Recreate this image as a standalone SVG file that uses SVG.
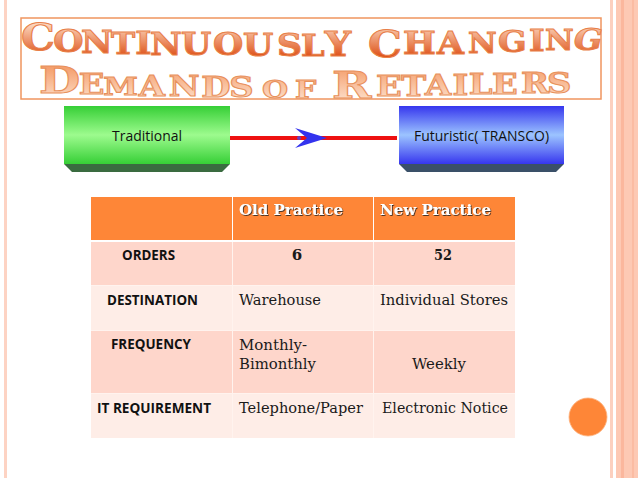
<svg xmlns="http://www.w3.org/2000/svg" width="638" height="478" viewBox="0 0 638 478">
<style>
.hdr{fill:#fe8637}.odd{fill:#fed6cb}.even{fill:#feede7}
.cal{font-family:"Open Sans","Liberation Sans",sans-serif;font-size:14px;fill:#111}
.lbl{font-family:"Open Sans","Liberation Sans",sans-serif;font-size:14px;font-weight:700;fill:#111}
.ser{font-family:"DejaVu Serif","Liberation Serif",serif;font-size:15px;fill:#1a1a1a}
.bold{font-weight:700}
.head{font-family:"DejaVu Serif","Liberation Serif",serif;font-size:15px;font-weight:700;fill:#fff;filter:url(#sh)}
.tt{font-family:"DejaVu Serif","Liberation Serif",serif;font-weight:700;stroke-width:1}
</style>
<defs>
<linearGradient id="g" x1="0" y1="0" x2="0" y2="1"><stop offset="0" stop-color="#36cf36"/><stop offset=".5" stop-color="#9dfb8e"/><stop offset="1" stop-color="#36cf36"/></linearGradient>
<linearGradient id="b" x1="0" y1="0" x2="0" y2="1"><stop offset="0" stop-color="#3636ee"/><stop offset=".5" stop-color="#9cc4ff"/><stop offset="1" stop-color="#3636ee"/></linearGradient>
<linearGradient id="t1" gradientUnits="userSpaceOnUse" x1="0" y1="24" x2="0" y2="57"><stop offset="0" stop-color="#fcd8c0"/><stop offset="1" stop-color="#dd4f16"/></linearGradient>
<linearGradient id="t2" gradientUnits="userSpaceOnUse" x1="0" y1="65" x2="0" y2="98"><stop offset="0" stop-color="#f49a66"/><stop offset="1" stop-color="#fcd9c2"/></linearGradient>
<filter id="sh" x="-10%" y="-20%" width="120%" height="140%"><feDropShadow dx=".8" dy=".8" stdDeviation=".4" flood-color="#222"/></filter>
<marker id="arr" markerUnits="userSpaceOnUse" markerWidth="34" markerHeight="22" refX="32" refY="11" orient="auto"><path d="M0 1L32 11L0 21L12 11Z" fill="#3333ee"/></marker>
</defs>
<g id="borders">
<rect x="4" y="0" width="3" height="478" fill="#fdd3c3"/>
<rect x="610" y="0" width="3" height="478" fill="#fcd0bf"/>
<rect x="616" y="0" width="22" height="478" fill="#fdc9b4"/>
<rect x="621" y="0" width="3" height="478" fill="#fbb79d"/>
<rect x="632" y="0" width="2" height="478" fill="#fbbca3"/>
</g>
<g id="title">
<rect x="21" y="18" width="580" height="81" fill="#fff" stroke="#f0955f" stroke-width="1.5"/>
<text class="tt" transform="scale(1.12 1)" fill="url(#t1)" stroke="#e87f48"><tspan x="18.75" y="50" font-size="38">C</tspan><tspan x="47.6" y="52" font-size="31">O</tspan><tspan x="72.3" y="53" font-size="31">N</tspan><tspan x="99.1" y="54" font-size="29">T</tspan><tspan x="120.8" y="54" font-size="31">I</tspan><tspan x="134" y="55" font-size="31">N</tspan><tspan x="161.6" y="55" font-size="31">U</tspan><tspan x="190.2" y="55" font-size="31">O</tspan><tspan x="217" y="56" font-size="31">U</tspan><tspan x="247.3" y="56" font-size="31">S</tspan><tspan x="268.8" y="56" font-size="30">L</tspan><tspan x="290" y="56" font-size="33">Y</tspan><tspan x="319" y="56" font-size="31"> </tspan><tspan x="328.6" y="57" font-size="38">C</tspan><tspan x="359.8" y="54" font-size="31">H</tspan><tspan x="390.2" y="54" font-size="31">A</tspan><tspan x="417.9" y="53" font-size="28">N</tspan><tspan x="444.6" y="52" font-size="30">G</tspan><tspan x="472.3" y="51" font-size="30">I</tspan><tspan x="486.6" y="50" font-size="28">N</tspan><tspan x="512.5" y="50" font-size="30" font-style="italic">G</tspan></text>
<text class="tt" transform="scale(1.25 1)" fill="url(#t2)" stroke="#e8915c"><tspan x="31.2" y="93" font-size="38">D</tspan><tspan x="63" y="94" font-size="27">E</tspan><tspan x="82.6" y="95" font-size="25">M</tspan><tspan x="111" y="96" font-size="27">A</tspan><tspan x="135" y="96" font-size="27">N</tspan><tspan x="161" y="97" font-size="27">D</tspan><tspan x="183.5" y="97" font-size="27">S</tspan><tspan x="200" y="97" font-size="24"> </tspan><tspan x="209.6" y="98" font-size="24">O</tspan><tspan x="236" y="98" font-size="24">F</tspan><tspan x="255" y="98" font-size="24"> </tspan><tspan x="265.6" y="98" font-size="38">R</tspan><tspan x="300.8" y="96" font-size="27">E</tspan><tspan x="320.8" y="96" font-size="27">T</tspan><tspan x="340" y="95" font-size="27">A</tspan><tspan x="362" y="95" font-size="27">I</tspan><tspan x="375" y="94" font-size="27">L</tspan><tspan x="393.6" y="94" font-size="27">E</tspan><tspan x="416.8" y="93" font-size="27">R</tspan><tspan x="437.6" y="93" font-size="27">S</tspan></text>
</g>
<g id="connectors">
<path d="M230 138L327 138L397 138" fill="none" stroke="#ee1111" stroke-width="4" marker-mid="url(#arr)"/>
<circle cx="299" cy="138" r="2" fill="#6a3fc0"/>
</g>
<g id="node-traditional">
<path d="M64 164H230L222 172H72Z" fill="#3a6b40"/>
<rect x="64" y="106" width="166" height="58" fill="url(#g)"/>
<text class="cal" x="112" y="141" textLength="70" lengthAdjust="spacingAndGlyphs">Traditional</text>
</g>
<g id="node-futuristic">
<path d="M399 164H564L556 172H407Z" fill="#3a5068"/>
<rect x="399" y="106" width="165" height="58" fill="url(#b)"/>
<text class="cal" x="414" y="141" textLength="135" lengthAdjust="spacingAndGlyphs">Futuristic( TRANSCO)</text>
</g>
<g id="table">
<rect x="91" y="242" width="424" height="196" fill="#fff3ee"/>
<rect class="hdr" x="91" y="197" width="141" height="43"/><rect class="hdr" x="233" y="197" width="140" height="43"/><rect class="hdr" x="374" y="197" width="141" height="43"/>
<rect class="odd" x="91" y="242" width="141" height="43"/><rect class="odd" x="233" y="242" width="140" height="43"/><rect class="odd" x="374" y="242" width="141" height="43"/>
<rect class="even" x="91" y="286" width="141" height="44"/><rect class="even" x="233" y="286" width="140" height="44"/><rect class="even" x="374" y="286" width="141" height="44"/>
<rect class="odd" x="91" y="331" width="141" height="62"/><rect class="odd" x="233" y="331" width="140" height="62"/><rect class="odd" x="374" y="331" width="141" height="62"/>
<rect class="even" x="91" y="394" width="141" height="44"/><rect class="even" x="233" y="394" width="140" height="44"/><rect class="even" x="374" y="394" width="141" height="44"/>
<text class="head" x="239" y="215" textLength="104" lengthAdjust="spacingAndGlyphs">Old Practice</text>
<text class="head" x="380" y="215" textLength="111" lengthAdjust="spacingAndGlyphs">New Practice</text>
<text class="lbl" x="122" y="260" textLength="53" lengthAdjust="spacingAndGlyphs">ORDERS</text>
<text class="ser bold" x="297" y="260" text-anchor="middle">6</text>
<text class="ser bold" x="434" y="260" textLength="18" lengthAdjust="spacingAndGlyphs">52</text>
<text class="lbl" x="107" y="305" textLength="91" lengthAdjust="spacingAndGlyphs">DESTINATION</text>
<text class="ser" x="239" y="305" textLength="82" lengthAdjust="spacingAndGlyphs">Warehouse</text>
<text class="ser" x="380" y="305" textLength="128" lengthAdjust="spacingAndGlyphs">Individual Stores</text>
<text class="lbl" x="111" y="349" textLength="80" lengthAdjust="spacingAndGlyphs">FREQUENCY</text>
<text class="ser" x="239" y="350" textLength="68" lengthAdjust="spacingAndGlyphs">Monthly-</text>
<text class="ser" x="239" y="369" textLength="77" lengthAdjust="spacingAndGlyphs">Bimonthly</text>
<text class="ser" x="412" y="369" textLength="54" lengthAdjust="spacingAndGlyphs">Weekly</text>
<text class="lbl" x="97" y="413" textLength="114" lengthAdjust="spacingAndGlyphs">IT REQUIREMENT</text>
<text class="ser" x="239" y="413" textLength="124" lengthAdjust="spacingAndGlyphs">Telephone/Paper</text>
<text class="ser" x="382" y="413" textLength="126" lengthAdjust="spacingAndGlyphs">Electronic Notice</text>
</g>
<circle id="dot" cx="588" cy="417" r="19" fill="#fe8637" stroke="#fdb27f" stroke-width=".8"/>
</svg>
